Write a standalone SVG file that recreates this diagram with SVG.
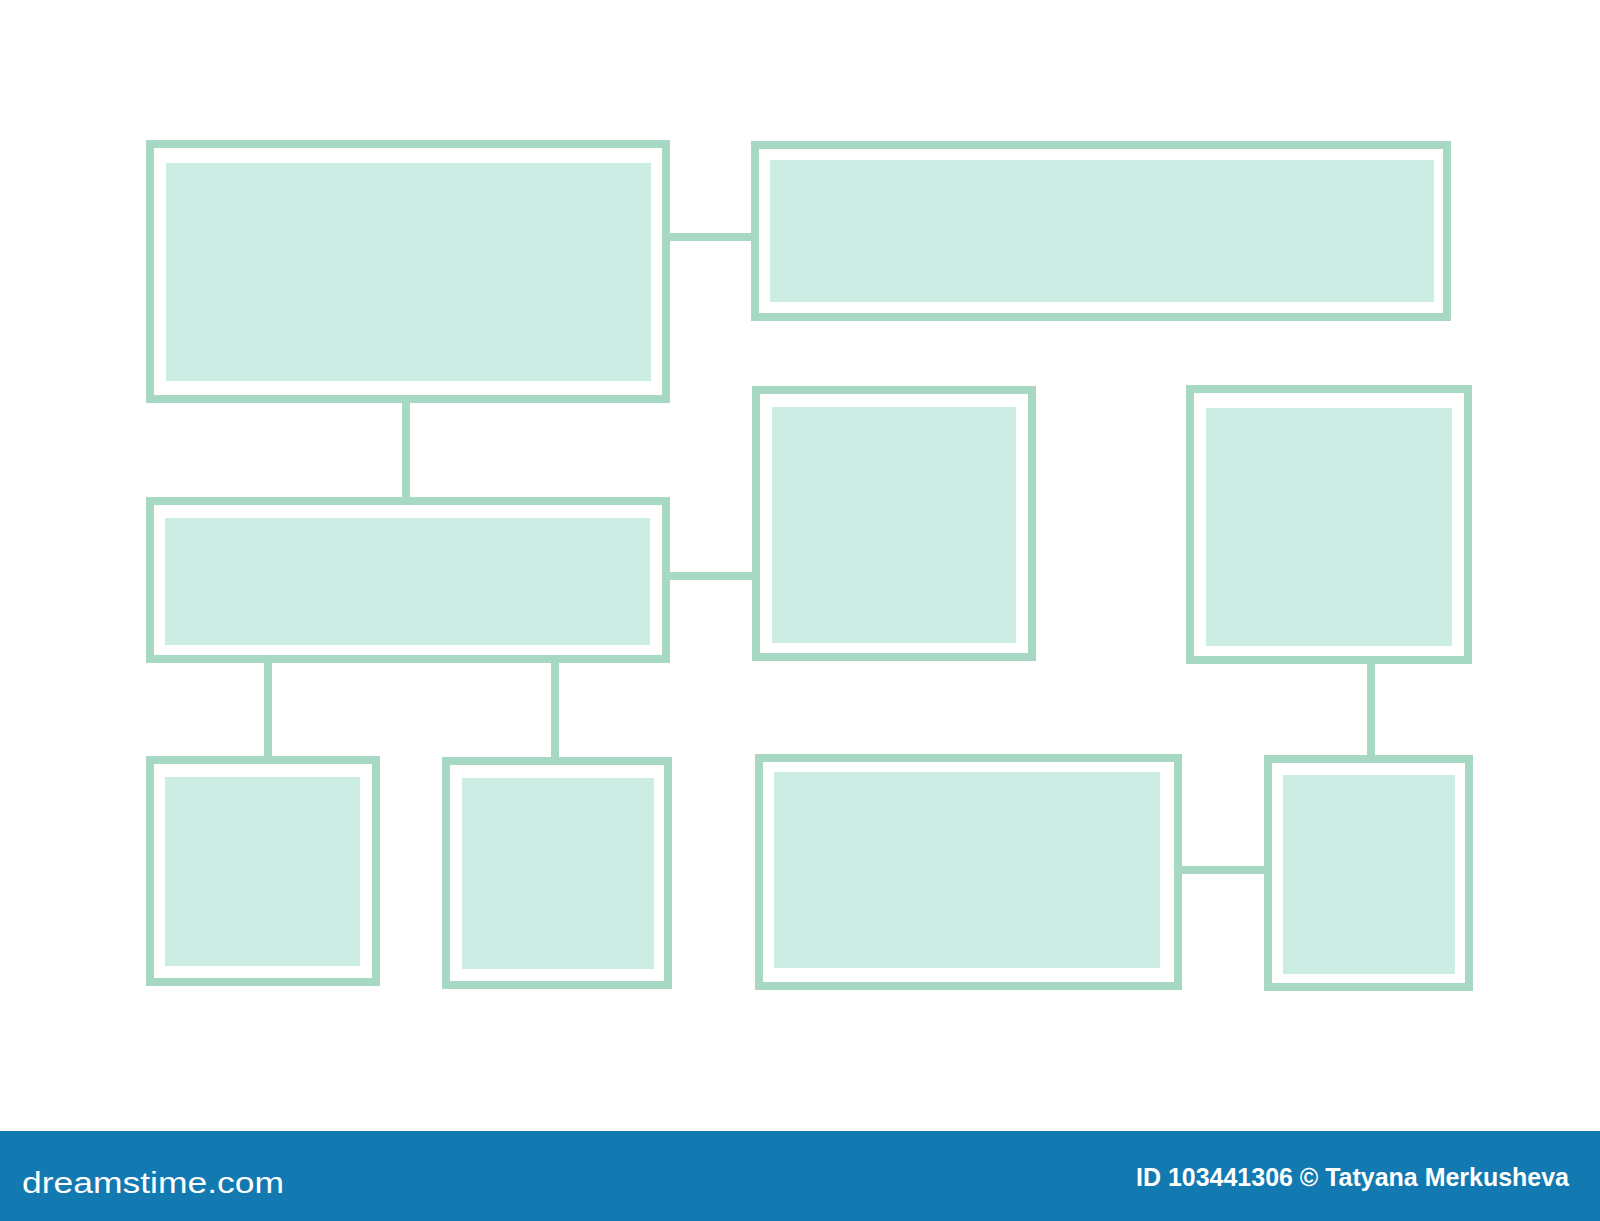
<svg xmlns="http://www.w3.org/2000/svg" width="1600" height="1221" viewBox="0 0 1600 1221">
<style>
.outer{fill:#ffffff;stroke:#a6d8c3;stroke-width:8}
.inner{fill:#cbede3;stroke:none}
.conn{stroke:#a6d8c3;stroke-width:8;fill:none}
.t{fill:#ffffff;font-family:"Liberation Sans",Arial,sans-serif}
</style>
<rect x="0" y="0" width="1600" height="1221" fill="#ffffff"/>
<g id="connectors">
<line class="conn" x1="668" y1="237" x2="753" y2="237"/>
<line class="conn" x1="406" y1="401" x2="406" y2="499"/>
<line class="conn" x1="668" y1="576" x2="754" y2="576"/>
<line class="conn" x1="268" y1="661" x2="268" y2="758"/>
<line class="conn" x1="555" y1="661" x2="555" y2="759"/>
<line class="conn" x1="1371" y1="662" x2="1371" y2="757"/>
<line class="conn" x1="1179" y1="870" x2="1266" y2="870"/>
</g>
<g id="nodeA"><rect class="outer" x="150" y="144" width="516" height="255"/><rect class="inner" x="166" y="163" width="485" height="218"/></g>
<g id="nodeB"><rect class="outer" x="755" y="145" width="692" height="172"/><rect class="inner" x="770" y="160" width="664" height="142"/></g>
<g id="nodeC"><rect class="outer" x="150" y="501" width="516" height="158"/><rect class="inner" x="165" y="518" width="485" height="127"/></g>
<g id="nodeD"><rect class="outer" x="756" y="390" width="276" height="267"/><rect class="inner" x="772" y="407" width="244" height="236"/></g>
<g id="nodeE"><rect class="outer" x="1190" y="389" width="278" height="271"/><rect class="inner" x="1206" y="408" width="246" height="238"/></g>
<g id="nodeF"><rect class="outer" x="150" y="760" width="226" height="222"/><rect class="inner" x="165" y="777" width="195" height="189"/></g>
<g id="nodeG"><rect class="outer" x="446" y="761" width="222" height="224"/><rect class="inner" x="462" y="778" width="192" height="191"/></g>
<g id="nodeH"><rect class="outer" x="759" y="758" width="419" height="228"/><rect class="inner" x="774" y="772" width="386" height="196"/></g>
<g id="nodeI"><rect class="outer" x="1268" y="759" width="201" height="228"/><rect class="inner" x="1283" y="775" width="172" height="199"/></g>
<g id="footer">
<rect x="0" y="1131" width="1600" height="90" fill="#1279b1"/>
<text class="t" x="22" y="1193" font-size="30" textLength="262" lengthAdjust="spacingAndGlyphs">dreamstime.com</text>
<text class="t" x="1136" y="1186" font-size="25" font-weight="bold" textLength="433" lengthAdjust="spacingAndGlyphs">ID 103441306 © Tatyana Merkusheva</text>
</g>
</svg>
